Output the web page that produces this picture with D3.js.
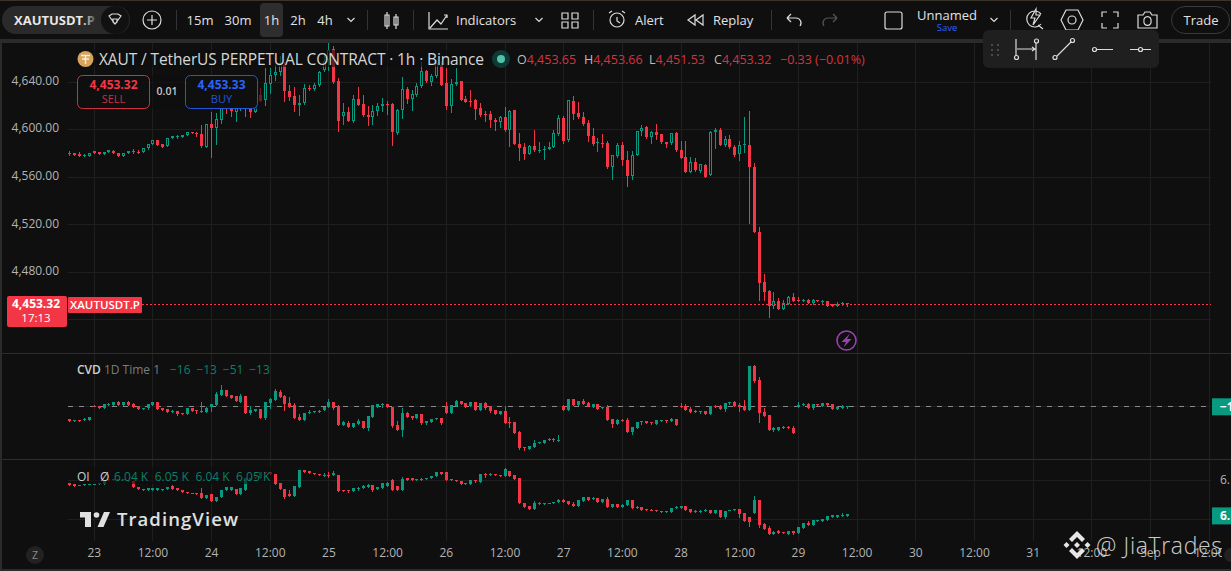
<!DOCTYPE html>
<meta charset="utf-8">
<script src="https://d3js.org/d3.v7.min.js"></script>
<style>
  html, body { margin: 0; padding: 0; background: #0f0f0f; overflow: hidden; }
  svg { display: block; font-family: "Open Sans", "Noto Sans", sans-serif; }
  .axis path { display: none; }
  .axis text { fill: #b4b4b4; font-size: 12px; font-family: "Open Sans", sans-serif; }
  .tb { fill: #e2e2e2; font-size: 13px; font-weight: 500; }
  .ic { fill: none; stroke: #dcdcdc; stroke-width: 1.2; }
</style>
<div id="chart"></div>
<script>
// open, high, low, close for every hourly bar
const priceBars = [
[4579.9,4581.2,4578.4,4580.1],[4579.8,4579.8,4578.1,4578.1],[4578.9,4580.4,4577.3,4577.3],[4577.3,4579.2,4577,4578],[4577,4579.8,4577,4579.8],
[4581.2,4581.4,4579.5,4579.5],[4580.6,4580.8,4578.9,4578.9],[4578.9,4580.9,4578.7,4580.9],[4580.9,4582.3,4580.5,4582],[4581.2,4582,4579.8,4579.8],
[4579.8,4579.8,4577,4577],[4577,4579.5,4577,4579.5],[4579.5,4581.8,4579.5,4581.8],[4581.2,4583.2,4579.8,4580.9],[4580.9,4582,4579.8,4580.6],
[4580.6,4583.7,4580.6,4583.7],[4583.7,4587.7,4583,4587.7],[4587.4,4590.7,4587.4,4590.7],[4591,4591,4586.8,4586.8],[4587.7,4587.7,4585.1,4585.1],
[4585.4,4592.1,4585.4,4592.1],[4592.1,4594.4,4592.1,4593.8],[4593.6,4594.7,4592.8,4593.9],[4593.3,4595.2,4593.3,4595.2],[4594.9,4597.2,4594.9,4597.2],
[4597.8,4597.9,4596.4,4596.4],[4596.6,4597.5,4593.8,4595.5],[4596.1,4603.6,4585.1,4585.4],[4585.1,4604.2,4585,4604.2],[4604.5,4614,4576.8,4600.6],
[4600.6,4613.5,4587.1,4608.4],[4608,4632,4605,4620],[4622,4628,4613.5,4619],[4622,4626,4610.8,4615],[4614,4624,4607,4621],
[4620,4625,4616,4623],[4625,4630,4611.2,4618],[4618,4626,4609.8,4614],[4614,4622,4614,4622],[4629,4634.5,4623.3,4623.3],
[4624.1,4651.4,4620.5,4638.7],[4638.2,4651.4,4630.3,4645.8],[4645.5,4654.2,4641.5,4647.7],[4647.7,4661.2,4645.5,4655.6],[4654.2,4656,4623.9,4631.7],
[4632.3,4637.3,4624.7,4626.9],[4628.1,4635.4,4614.9,4619.9],[4620.2,4628.9,4612.1,4621.9],[4621.9,4638.2,4621,4634.5],[4634.5,4637.3,4632.6,4633.9],
[4633.7,4638.7,4632.6,4637.3],[4637.3,4648.6,4636.6,4647.7],[4649.4,4664,4649,4657],[4657.8,4673,4650,4666.2],[4667.6,4670,4639,4639.3],
[4640.7,4642.7,4598,4606.5],[4610.7,4621.9,4604.5,4614],[4614.3,4618.6,4606.5,4606.8],[4607,4628.9,4606,4625.3],[4625.3,4635.6,4619.9,4620.5],
[4621.3,4628.9,4611,4611.5],[4611.8,4619.6,4603.6,4609.8],[4609.8,4620.5,4604.5,4615.2],[4615.4,4621.9,4612.1,4619.4],[4619.1,4626.1,4614.9,4621],
[4621,4623.9,4613,4620.5],[4621.3,4622,4586.2,4597.2],[4596.8,4617,4596,4616.3],[4616.3,4643.5,4609.3,4633.7],[4634,4635,4621.9,4625.3],
[4625.3,4633.1,4616.3,4629.5],[4628.9,4638.5,4628,4636.5],[4635.9,4656.1,4635.4,4648.6],[4648.6,4650,4640,4640.1],[4639.6,4646,4637.3,4644.9],
[4644.4,4658,4644,4655.6],[4654.2,4656,4637,4637.3],[4638.7,4651.4,4616.8,4619.1],[4619.6,4642.1,4614,4638.2],[4637.6,4651.4,4637,4639.9],
[4640.1,4640.5,4624.5,4624.7],[4625.3,4628.1,4622.8,4623],[4623.6,4633.1,4619.6,4623],[4624.1,4625.3,4608.4,4617.1],[4617.7,4621.9,4611.2,4612.1],
[4612.9,4614.9,4606.5,4612.4],[4612.9,4614.9,4601.4,4607.3],[4607.9,4609.3,4598.9,4605.6],[4605.6,4611.2,4601.7,4610.1],[4610.1,4618.5,4598.6,4599.4],
[4599.4,4615.7,4585.4,4615.2],[4615.7,4616.3,4587.1,4587.4],[4587.4,4596.6,4573.6,4583.7],[4584.6,4588.2,4575,4579.2],[4579.2,4586.8,4579,4585.7],
[4585.7,4599.4,4581.8,4582],[4582,4589.1,4580.4,4582.6],[4582.3,4585.4,4575,4583.4],[4583.2,4589.1,4583,4584.8],[4584.8,4599.4,4584.6,4596.6],
[4596.1,4612.1,4594.9,4609.3],[4609.3,4611.2,4587.9,4590.2],[4591,4624.7,4589.6,4624.1],[4623.9,4627.5,4608.7,4612.9],[4613.5,4622.7,4609.5,4609.8],
[4610.1,4614,4603.6,4604.5],[4605,4607.9,4589.6,4593.8],[4594.4,4600.8,4586.8,4587.6],[4588.8,4592.4,4581.5,4589.3],[4588.5,4595.8,4584.8,4588],
[4588.5,4589.6,4567.4,4567.7],[4567.7,4578.4,4558.2,4578.1],[4577.5,4588.2,4576.4,4586.8],[4586.8,4589.1,4569.4,4573.6],[4574.2,4581.8,4551.7,4560.7],
[4560.7,4581.8,4558.2,4578.1],[4578.1,4598.5,4578,4598.3],[4598.3,4603.6,4595.2,4600.8],[4601.4,4602.2,4592.8,4593],[4593,4598,4588.2,4597.5],
[4597.8,4604.5,4591.9,4595.2],[4595.8,4596,4588.6,4588.8],[4589.1,4589.3,4585.1,4587.6],[4587.9,4597,4587.7,4596.6],[4596.6,4597.5,4581.8,4582],
[4582.6,4590.2,4575.3,4575.6],[4576.4,4590.2,4564,4564.3],[4564.3,4576.7,4564,4572.2],[4572.2,4575.3,4565,4565.2],[4564.9,4570.8,4564.3,4570.2],
[4570,4570.8,4560,4560.1],[4561.3,4598,4561,4597.5],[4597.2,4600.8,4584,4599.2],[4599.4,4600.8,4586.5,4586.8],[4586.8,4593.8,4585.4,4591.9],
[4591.9,4594.7,4584.4,4584.6],[4585.1,4586.8,4577.5,4578.4],[4578.7,4589.9,4573.6,4586.5],[4586.5,4610.1,4580.4,4587.4],[4586.8,4615.4,4521.4,4567.7],
[4568.3,4571.3,4513.6,4513.8],[4513.5,4517.7,4456.2,4470.8],[4471.7,4478.2,4456.2,4463.3],[4463.9,4464.5,4442.2,4451.5],[4451.5,4463,4449.2,4455.4],
[4455.4,4457.9,4448.4,4448.7],[4449,4456.2,4448.7,4453.4],[4453.1,4459.6,4453,4458.8],[4458.8,4462,4455.2,4455.4],[4456.2,4458.8,4455.4,4455.6],
[4455.6,4457.1,4455.4,4456.2],[4456.5,4456.8,4453.4,4453.7],[4453.7,4457.4,4452.8,4456.2],[4456.2,4456.3,4455.5,4455.6],[4454.8,4456.2,4452.8,4455.4],
[4455.4,4455.6,4451.3,4451.5],[4452.6,4452.8,4451.3,4451.5],[4451.5,4454.5,4451.3,4452.8],[4452.8,4454.8,4452.2,4454],[4453.65,4453.66,4451.53,4453.32]
];
const cvdBars = [
[-51,-51,-56,-56],[-56,-54,-56,-54],[-55,-55,-56,-56],[-55,-48,-55,-51],[-54,-45,-54,-45],
[-12,-9,-13,-13],[-12,-12,-18,-18],[-17,-7,-17,-7],[-9,-3,-9,-6],[-9,1,-9,1],
[0,3,-9,-9],[-9,0,-9,0],[1,3,-9,-9],[-7,-2,-14,-14],[-13,-13,-21,-21],
[-20,-17,-20,-17],[-17,-7,-21,-7],[-9,0,-9,0],[0,0,-20,-20],[-17,-17,-24,-24],
[-21,-21,-31,-31],[-30,-25,-30,-27],[-28,-28,-40,-37],[-33,-33,-35,-35],[-36,-17,-36,-17],
[-18,-18,-26,-26],[-25,-25,-33,-27],[-29,0,-29,-27],[-29,-14,-29,-17],[-16,-6,-27,-6],
[-9,29,-9,24],[21,50,21,37],[37,37,18,18],[20,20,12,12],[17,17,4,4],
[0,23,0,19],[18,18,-33,-33],[-33,-13,-36,-24],[-26,-21,-26,-21],[-21,-21,-48,-48],
[-49,0,-51,0],[-3,13,-19,10],[6,39,6,32],[29,36,16,16],[18,21,-24,-7],
[-3,16,-14,-14],[-8,-4,-48,-48],[-46,-37,-54,-54],[-54,-33,-54,-33],[-32,-24,-32,-29],
[-29,-26,-29,-26],[-29,-25,-29,-27],[-24,-15,-24,-15],[-16,8,-16,-1],[0,0,-21,-18],
[-12,-9,-69,-69],[-69,-57,-69,-60],[-62,-57,-75,-75],[-75,-63,-75,-63],[-66,-51,-66,-56],
[-57,-57,-78,-78],[-79,-42,-83,-42],[-45,-10,-45,-10],[-14,-6,-14,-6],[-9,-4,-14,-7],
[-7,-7,-14,-14],[-14,-14,-75,-72],[-69,-56,-84,-84],[-85,-19,-102,-33],[-32,-30,-44,-44],
[-43,-43,-50,-48],[-48,-36,-48,-36],[-36,-36,-66,-64],[-64,-57,-66,-57],[-60,-52,-60,-52],
[-52,-47,-52,-49],[-49,-49,-66,-64],[-12,0,-33,-33],[-33,-9,-33,-9],[-13,6,-13,3],
[3,3,-6,-6],[-3,-3,-14,-14],[-12,0,-12,0],[0,0,-24,-24],[-24,-3,-24,-3],
[-3,0,-21,-19],[-13,-13,-30,-27],[-24,-24,-36,-36],[-36,-27,-36,-27],[-27,-12,-63,-63],
[-61,-45,-75,-62],[-61,-61,-93,-93],[-91,-88,-141,-138],[-136,-136,-144,-139],[-141,-133,-141,-133],
[-135,-114,-135,-123],[-122,-120,-122,-120],[-123,-114,-123,-114],[-114,-108,-114,-111],[-111,-108,-117,-114],
[-117,-99,-117,-114],[-12,-9,-24,-24],[-24,9,-24,9],[9,9,-9,-9],[-9,3,-9,3],
[3,9,-6,-6],[-3,0,-13,-13],[-15,-6,-15,-6],[-6,-6,-21,-21],[-18,-15,-18,-15],
[-15,-9,-54,-54],[-51,-51,-75,-66],[-66,-51,-66,-54],[-54,-51,-57,-57],[-54,-48,-90,-90],
[-90,-75,-96,-75],[-78,-60,-78,-60],[-60,-57,-66,-57],[-57,-57,-63,-63],[-60,-60,-66,-63],
[-66,-54,-66,-54],[-57,-54,-57,-54],[-54,-54,-60,-57],[-57,-48,-57,-51],[-51,-51,-69,-69],
[-12,-3,-14,-14],[-12,-6,-24,-24],[-21,-15,-30,-30],[-27,-24,-30,-30],[-30,-27,-33,-27],
[-27,-27,-36,-36],[-36,-13,-36,-13],[-12,-9,-15,-15],[-12,-9,-21,-21],[-21,-3,-27,-3],
[-3,0,-6,0],[0,3,-12,-12],[-9,-3,-27,-15],[-12,6,-24,-24],[-24,108,-24,108],
[108,111,60,63],[66,75,-60,-33],[-30,-18,-42,-42],[-39,-39,-84,-84],[-84,-75,-87,-78],
[-84,-75,-84,-75],[-75,-72,-78,-78],[-74,-71,-77,-77],[-78,-72,-93,-93],[-14,0,-14,-9],
[-9,-3,-9,-6],[-6,-3,-18,-18],[-18,-6,-21,-6],[-6,-6,-9,-9],[-12,-3,-12,-3],
[-3,-3,-9,-9],[-7,-7,-21,-21],[-21,-12,-21,-14],[-18,-9,-18,-12],[-16,-13,-18,-13]
];
const oiBars = [
[6465,6467,6440,6440],[6448,6448,6431,6431],[6436,6440,6436,6440],[6444,6448,6444,6448],[6448,6452,6448,6452],
[6453,6457,6453,6457],[6457,6461,6457,6461],[6457,6504,6457,6504],[6517,6517,6504,6504],[6517,6517,6508,6508],
[6517,6517,6512,6512],[6515,6515,6508,6508],[6500,6500,6491,6491],[6491,6491,6414,6414],[6414,6414,6384,6384],
[6389,6389,6376,6376],[6376,6397,6376,6397],[6380,6405,6380,6397],[6380,6397,6380,6397],[6376,6389,6376,6389],
[6384,6419,6384,6419],[6431,6444,6393,6393],[6397,6397,6371,6371],[6376,6376,6354,6354],[6354,6354,6341,6341],
[6341,6341,6333,6333],[6337,6337,6329,6329],[6333,6397,6278,6278],[6278,6312,6278,6312],[6329,6329,6239,6239],
[6239,6286,6239,6286],[6282,6376,6282,6376],[6371,6410,6371,6410],[6376,6410,6376,6410],[6384,6384,6329,6329],
[6329,6397,6329,6397],[6371,6525,6371,6525],[6504,6534,6504,6534],[6525,6545,6525,6545],[6534,6603,6534,6603],
[6611,6611,6593,6593],[6602,6602,6576,6576],[6576,6576,6448,6448],[6461,6461,6384,6384],[6384,6384,6278,6290],
[6320,6376,6303,6303],[6303,6427,6303,6427],[6419,6628,6419,6628],[6636,6636,6602,6602],[6619,6619,6593,6593],
[6593,6593,6576,6576],[6576,6576,6564,6564],[6568,6589,6551,6572],[6568,6602,6538,6559],[6568,6619,6568,6589],
[6568,6568,6367,6367],[6376,6376,6367,6367],[6380,6380,6346,6363],[6359,6401,6359,6401],[6389,6414,6376,6401],
[6406,6435,6406,6423],[6419,6452,6419,6440],[6435,6435,6367,6380],[6393,6414,6393,6414],[6397,6470,6397,6470],
[6423,6483,6423,6465],[6500,6517,6376,6376],[6423,6423,6376,6376],[6380,6542,6380,6512],[6525,6525,6508,6508],
[6525,6525,6500,6500],[6508,6517,6508,6517],[6504,6525,6504,6512],[6512,6529,6512,6529],[6525,6559,6525,6559],
[6555,6602,6555,6602],[6602,6602,6585,6585],[6606,6606,6504,6504],[6512,6512,6500,6500],[6508,6508,6487,6487],
[6495,6495,6453,6453],[6461,6461,6453,6453],[6453,6500,6453,6500],[6504,6504,6474,6487],[6478,6581,6478,6581],
[6581,6593,6546,6568],[6572,6593,6572,6581],[6576,6576,6568,6568],[6568,6568,6559,6559],[6559,6657,6559,6640],
[6619,6619,6555,6555],[6564,6564,6521,6521],[6525,6525,6213,6213],[6205,6205,6162,6162],[6171,6171,6137,6137],
[6137,6235,6137,6209],[6201,6222,6201,6209],[6201,6205,6201,6205],[6209,6213,6209,6213],[6218,6226,6213,6226],
[6226,6260,6226,6248],[6248,6260,6226,6226],[6231,6231,6201,6201],[6201,6222,6175,6175],[6175,6248,6175,6248],
[6239,6286,6239,6286],[6286,6286,6252,6252],[6265,6290,6265,6278],[6273,6273,6226,6226],[6222,6265,6222,6265],
[6265,6286,6162,6162],[6162,6196,6162,6196],[6196,6196,6162,6162],[6162,6201,6162,6188],[6184,6248,6184,6248],
[6248,6248,6145,6145],[6158,6171,6145,6145],[6158,6158,6124,6124],[6132,6132,6124,6124],[6124,6132,6115,6115],
[6120,6120,6111,6111],[6102,6102,6098,6098],[6098,6102,6098,6102],[6094,6141,6094,6141],[6149,6171,6149,6162],
[6149,6167,6149,6167],[6171,6171,6124,6124],[6128,6128,6098,6098],[6111,6120,6094,6094],[6094,6115,6094,6102],
[6107,6128,6107,6115],[6120,6120,6081,6081],[6081,6120,6081,6120],[6120,6120,6030,6034],[6030,6107,6013,6107],
[6115,6120,6115,6120],[6120,6132,6120,6132],[6137,6137,6034,6073],[6077,6077,5983,5983],[6030,6030,5915,5962],
[6081,6299,6081,6248],[6248,6248,5902,5927],[5945,5949,5880,5880],[5889,5915,5812,5812],[5816,5851,5816,5838],
[5851,5859,5829,5829],[5838,5838,5829,5829],[5812,5851,5812,5851],[5851,5851,5816,5829],[5825,5902,5825,5902],
[5889,5953,5889,5953],[5953,5983,5932,5932],[5927,5991,5927,5991],[5979,5991,5979,5991],[5983,6004,5983,6004],
[5991,6043,5991,6043],[6030,6051,6030,6051],[6030,6051,6030,6051],[6043,6085,6043,6056],[6043,6068,6043,6068]
];
const priceTicks = [4640, 4600, 4560, 4520, 4480];
const priceGrid = [4640, 4600, 4560, 4520, 4480, 4440];
const timeLabels = ["23","12:00","24","12:00","25","12:00","26","12:00","27","12:00","28","12:00","29","12:00","30","12:00","31","12:00","Sep","12:00"];
const lastPrice = 4453.32;
const lastCvd = -13;
const lastOi = 6050;

const W = 1231, H = 571;
const up = "#089981", down = "#f23645", bg = "#0f0f0f", grid = "#1f1f1f", band = "#2b2b2b";

const svg = d3.select("#chart").append("svg").attr("width", W).attr("height", H);
svg.append("rect").attr("width", W).attr("height", H).attr("fill", bg);

// bar index to x, same step for all three panes
const x = d3.scaleLinear().domain([0, 233]).range([69.3, 1208.7]);
const priceY = d3.scaleLinear().domain([4440, 4640]).range([319.3, 81.5]);
const cvdY = d3.scaleLinear().domain([-13, 47]).range([406.3, 386.3]);
const oiY = d3.scaleLinear().domain([6000, 6500]).range([519.3, 480.3]);
const timeIdx = timeLabels.map((d, k) => 5 + 12 * k);

// grid
const gridG = svg.append("g").attr("shape-rendering", "crispEdges").attr("stroke", grid);
timeIdx.forEach(i => gridG.append("line").attr("x1", Math.round(x(i)) + .5).attr("x2", Math.round(x(i)) + .5).attr("y1", 42).attr("y2", 541));
const hLines = priceGrid.map(priceY).concat([cvdY(lastCvd), oiY(6500), oiY(6000)]);
hLines.forEach(y => gridG.append("line").attr("x1", 68).attr("x2", 1211).attr("y1", Math.round(y) + .5).attr("y2", Math.round(y) + .5));

// last value lines
svg.append("line").attr("x1", 68).attr("x2", 1211).attr("y1", Math.round(cvdY(lastCvd)) + .5).attr("y2", Math.round(cvdY(lastCvd)) + .5)
  .attr("stroke", "#8a8a8a").attr("stroke-dasharray", "5,6").attr("shape-rendering", "crispEdges");

const defs = svg.append("defs");
function clip(id, y0, y1) {
  defs.append("clipPath").attr("id", id).append("rect").attr("x", 66).attr("y", y0).attr("width", 1146).attr("height", y1 - y0);
}
clip("cp", 43, 353); clip("cc", 354, 459); clip("co", 460, 541);

function drawCandles(id, rows, y, hollow) {
  const g = svg.append("g").attr("clip-path", `url(#${id})`).attr("shape-rendering", "crispEdges");
  const col = d => d[3] >= d[0] ? up : down;
  g.selectAll("line").data(rows).join("line")
    .attr("x1", (d, i) => Math.round(x(i)) + .5).attr("x2", (d, i) => Math.round(x(i)) + .5)
    .attr("y1", d => Math.round(y(d[1]))).attr("y2", d => Math.round(y(d[2])) + 1)
    .attr("stroke", col);
  g.selectAll("rect").data(rows).join("rect")
    .each(function(d, i) {
      const top = Math.round(y(Math.max(d[0], d[3])));
      const h = Math.max(1, Math.round(y(Math.min(d[0], d[3]))) - top);
      const open = hollow && d[3] >= d[0] && h > 2;
      d3.select(this)
        .attr("x", Math.round(x(i)) - 1 + (open ? .5 : 0))
        .attr("width", open ? 2 : 3)
        .attr("y", top + (open ? .5 : 0))
        .attr("height", open ? h - 1 : h)
        .attr("fill", open ? bg : col(d))
        .attr("stroke", open ? col(d) : "none");
    });
}
drawCandles("cp", priceBars, priceY, true);
drawCandles("cc", cvdBars, cvdY, false);
drawCandles("co", oiBars, oiY, false);

// current price dotted line
const lastY = Math.round(priceY(lastPrice)) + 1.5;
svg.append("line").attr("x1", 142).attr("x2", 1211).attr("y1", lastY).attr("y2", lastY)
  .attr("stroke", "#ff3347").attr("stroke-dasharray", "2,2").attr("shape-rendering", "crispEdges");

// dimmed backing of the legends
svg.append("rect").attr("x", 77).attr("y", 50).attr("width", 413).attr("height", 17).attr("fill", bg).attr("opacity", .62);
svg.append("rect").attr("x", 77).attr("y", 467).attr("width", 197).attr("height", 17).attr("fill", bg).attr("opacity", .62);
svg.append("rect").attr("x", 77).attr("y", 75).attr("width", 186).attr("height", 34).attr("fill", bg).attr("opacity", .62);

// axes
svg.append("g").attr("class", "axis").attr("transform", "translate(60,-1)")
  .call(d3.axisLeft(priceY).tickValues(priceTicks).tickSize(0).tickPadding(1).tickFormat(d3.format(",.2f")));
defs.append("clipPath").attr("id", "ct").append("rect").attr("x", 0).attr("y", 541).attr("width", 1222).attr("height", 28);
svg.append("g").attr("clip-path", "url(#ct)").append("g").attr("class", "axis").attr("transform", "translate(0,541)")
  .call(d3.axisBottom(x).tickValues(timeIdx).tickSize(0).tickPadding(7).tickFormat((d, i) => timeLabels[i]));

// frame bands and pane dividers
const bands = [[0,39,W,4],[0,43,2,528],[0,569,W,2]];
bands.forEach(b => svg.append("rect").attr("x", b[0]).attr("y", b[1]).attr("width", b[2]).attr("height", b[3]).attr("fill", band));
svg.append("rect").attr("width", W).attr("height", 1).attr("fill", "#3a3428");
[353, 459].forEach(y => svg.append("rect").attr("x", 2).attr("y", y).attr("width", W).attr("height", 1).attr("fill", "#2e2e2e"));

// toolbar
const tb = svg.append("g");
function label(t, px, py, o) {
  o = o || {};
  return tb.append("text").attr("class", o.cls === undefined ? "tb" : o.cls).attr("x", px).attr("y", py).attr("text-anchor", o.a || "middle")
    .style("font-weight", o.w).style("font-size", o.s ? o.s + "px" : null).style("fill", o.c).text(t);
}
function icon(d, tx, ty, extra) {
  return tb.append("path").attr("class", "ic").attr("d", d).attr("transform", `translate(${tx},${ty})`).attr("style", extra || null);
}
const fade = defs.append("linearGradient").attr("id", "fade");
fade.append("stop").attr("offset", "0").attr("stop-color", "#e8e8e8");
fade.append("stop").attr("offset", ".84").attr("stop-color", "#e8e8e8");
fade.append("stop").attr("offset", "1").attr("stop-color", "#555");
tb.append("rect").attr("x", 2).attr("y", 6).attr("width", 128).attr("height", 28).attr("rx", 14).attr("fill", "#2a2a2a");
label("XAUTUSDT.P", 14, 25, {a: "start", s: 13, w: 700}).style("fill", "url(#fade)").attr("textLength", 81);
tb.append("circle").attr("cx", 115).attr("cy", 20).attr("r", 14).attr("fill", "#111");
icon("M-6,-4 L-3,-6 L3,-6 L6,-4 L0,4 Z M-2,-1 L2,-1 L2,2 L0,4 L-2,2 Z", 115, 20);
icon("M-9,0 A9,9 0 1,1 9,0 A9,9 0 1,1 -9,0 M-5,0 L5,0 M0,-5 L0,5", 152, 20);
const seps = [176, 367, 413, 593, 771, 1010];
seps.forEach(sx => tb.append("rect").attr("x", sx).attr("y", 10).attr("width", 1).attr("height", 20).attr("fill", "#333"));
tb.append("rect").attr("x", 260).attr("y", 3).attr("width", 23).attr("height", 34).attr("rx", 4).attr("fill", "#2e2e2e");
[["15m",200],["30m",238],["1h",271.5],["2h",298],["4h",325]].forEach(d => label(d[0], d[1], 25));
const chev = "M-3.5,-2 L0,1.5 L3.5,-2";
[351, 539, 994].forEach(cx => icon(chev, cx, 20));
icon("M387,12 V29 M385,15 H389 V26 H385 Z M396,14 V29 M394,17 H398 V25 H394 Z", 0, 0);
icon("M430,28 L437,20 L441,24 L447,15 M444,15 H447 V18 M429,12 V29 H448", 0, 0);
label("Indicators", 456, 25, {a: "start"});
icon("M562,13 H568 V19 H562 Z M572,13 H578 V19 H572 Z M562,22 H568 V28 H562 Z M572,22 H578 V28 H572 Z", 0, 0);
icon("M-7,0 A7,7 0 1,1 7,0 A7,7 0 1,1 -7,0 M0,-3 V1 L3,3 M-8,-7 L-5,-9 M8,-7 L5,-9", 617, 20);
label("Alert", 635, 25, {a: "start"});
icon("M695,15 V25 L688,20 Z M703,15 V25 L696,20 Z", 0, 0);
label("Replay", 713, 25, {a: "start"});
icon("M787,18 H796 A5,5 0 0 1 800,26 M787,18 L791,14 M787,18 L791,22", 0, 0);
icon("M837,18 H828 A5,5 0 0 0 824,26 M837,18 L833,14 M837,18 L833,22", 0, 0, "stroke:#555");
tb.append("rect").attr("class", "ic").attr("x", 885).attr("y", 12).attr("width", 17).attr("height", 17).attr("rx", 2);
label("Unnamed", 947, 20, {s: 13, w: 500});
label("Save", 947, 31, {s: 9.5, w: 500, c: "#2962ff", cls: ""});
icon("M1041,14 A8,8 0 1 0 1041,24 M1038,25 L1043,29 M1036,9 L1031,18 H1035 L1033,25 L1040,15 H1036 Z", 0, 0);
icon("M1066,10 H1078 L1083,20 L1078,30 H1066 L1061,20 Z M1068,20 A4,4 0 1,1 1076,20 A4,4 0 1,1 1068,20", 0, 0);
icon("M1102,17 V12 H1107 M1113,12 H1118 V17 M1118,23 V28 H1113 M1107,28 H1102 V23", 0, 0);
icon("M1138,15 H1143 L1145,12 H1150 L1152,15 H1157 V28 H1138 Z M1144,21 A3.6,3.6 0 1,1 1151,21 A3.6,3.6 0 1,1 1144,21", 0, 0);
tb.append("rect").attr("x", 1171.5).attr("y", 6.5).attr("width", 58).attr("height", 27).attr("rx", 13.5).attr("fill", "none").attr("stroke", "#3a3a3a");
label("Trade", 1201, 25, {s: 13, w: 500});

// floating drawing bar
tb.append("rect").attr("x", 983).attr("y", 30).attr("width", 176).attr("height", 38).attr("rx", 6).attr("fill", "#1f1f1f");
[0, 1, 2].forEach(r => [0, 1].forEach(c => tb.append("rect").attr("x", 991 + c * 6).attr("y", 44 + r * 5).attr("width", 2).attr("height", 2).attr("fill", "#4a4a4a")));
icon("M1016,39 V56 M1036,43 V60 M1017,49 H1035 M1032,47 L1035,49 L1032,51", 0, 0);
[[1016.5,57.5],[1036.5,41],[1055,57.5],[1072.5,40.5],[1094.5,49.5],[1140.5,49.5]].forEach(c =>
  tb.append("circle").attr("class", "ic").attr("cx", c[0]).attr("cy", c[1]).attr("r", 2));
icon("M1057,56 L1071,42 M1097,49.5 H1113 M1130,49.5 H1138 M1143,49.5 H1151", 0, 0);

// chart legends
const lg = svg.append("g");
lg.append("circle").attr("cx", 85.5).attr("cy", 59).attr("r", 8).attr("fill", "#d8a35c");
lg.append("path").attr("d", "M81,55.5 H90 M85.5,55.5 V64 M82,59 H89").attr("stroke", "#fbeed8").attr("stroke-width", 1.4).attr("fill", "none");
lg.append("text").attr("x", 99).attr("y", 65).attr("fill", "#d6d6d6").style("font-size", "15.5px").attr("textLength", 385).text("XAUT / TetherUS PERPETUAL CONTRACT · 1h · Binance");
lg.append("circle").attr("cx", 501).attr("cy", 59).attr("r", 9).attr("fill", "#0e3a33");
lg.append("circle").attr("cx", 501).attr("cy", 59).attr("r", 4).attr("fill", "#4ec3a9");
const ohlc = [["O","4,453.65",517],["H","4,453.66",584],["L","4,451.53",649],["C","4,453.32",714]];
ohlc.forEach(d => {
  const t = lg.append("text").attr("x", d[2]).attr("y", 64).style("font-size", "12.5px");
  t.append("tspan").attr("fill", "#bdbdbd").text(d[0]);
  t.append("tspan").attr("fill", "#d8323f").text(d[1]);
});
lg.append("text").attr("x", 780).attr("y", 64).attr("fill", "#d8323f").style("font-size", "12.5px").text("−0.33 (−0.01%)");

function orderBox(bx, col, price, side) {
  lg.append("rect").attr("x", bx + .5).attr("y", 75.5).attr("width", 72).attr("height", 33).attr("rx", 5).attr("fill", bg).attr("stroke", col).attr("stroke-opacity", .85);
  lg.append("text").attr("x", bx + 36.5).attr("y", 89).attr("text-anchor", "middle").attr("fill", col).style("font-size", "12px").style("font-weight", 700).text(price);
  lg.append("text").attr("x", bx + 36.5).attr("y", 103).attr("text-anchor", "middle").attr("fill", col).attr("fill-opacity", .85).style("font-size", "11px").text(side);
}
orderBox(77, down, "4,453.32", "SELL");
orderBox(185, "#2962ff", "4,453.33", "BUY");
lg.append("text").attr("x", 167).attr("y", 95).attr("text-anchor", "middle").attr("fill", "#c8c8c8").style("font-size", "10.5px").style("font-weight", 600).text("0.01");

// last price tags
lg.append("rect").attr("x", 7).attr("y", 296).attr("width", 60).attr("height", 31).attr("rx", 2).attr("fill", down);
lg.append("text").attr("x", 36).attr("y", 308).attr("text-anchor", "middle").attr("fill", "#fff").style("font-size", "12px").style("font-weight", 700).text("4,453.32");
lg.append("text").attr("x", 36).attr("y", 322).attr("text-anchor", "middle").attr("fill", "#fff").style("font-size", "11.5px").text("17:13");
lg.append("rect").attr("x", 68).attr("y", 297).attr("width", 74).attr("height", 16).attr("rx", 1).attr("fill", down);
lg.append("text").attr("x", 105).attr("y", 309).attr("text-anchor", "middle").attr("fill", "#fff").style("font-size", "11.5px").style("font-weight", 600).text("XAUTUSDT.P");

// lightning mark
lg.append("circle").attr("cx", 846.5).attr("cy", 340.5).attr("r", 9.5).attr("fill", "none").attr("stroke", "#9a42b5").attr("stroke-width", 1.6);
lg.append("path").attr("d", "M850,333.5 L841.5,342 H846 L843.5,347.5 L851.5,339 H847 Z").attr("fill", "#9a42b5");

// pane legends
const cvdT = lg.append("text").attr("x", 77).attr("y", 374).style("font-size", "12px");
cvdT.append("tspan").attr("fill", "#cfcfcf").style("font-weight", 600).text("CVD");
cvdT.append("tspan").attr("dx", 3).attr("fill", "#7c7c7c").text("1D Time 1");
["−16","−13","−51","−13"].forEach((t, i) => lg.append("text").attr("x", 170 + i * 26.4).attr("y", 374).attr("fill", "#08806c").style("font-size", "12px").text(t));
lg.append("text").attr("x", 77).attr("y", 481).attr("fill", "#cfcfcf").style("font-size", "12px").text("OI");
lg.append("text").attr("x", 100).attr("y", 481).attr("fill", "#cfcfcf").style("font-size", "12px").text("Ø");
["6.04 K","6.05 K","6.04 K","6.05 K"].forEach((t, i) => lg.append("text").attr("x", 114 + i * 40.7).attr("y", 481).attr("fill", "#08806c").style("font-size", "12px").text(t));

// right hand tags, cut by the window edge
[[1212, cvdY(lastCvd) - 8, "−1"], [1212, oiY(lastOi) - 8, "6."]].forEach(d => {
  lg.append("rect").attr("x", d[0]).attr("y", d[1]).attr("width", 19).attr("height", 17).attr("fill", up);
  lg.append("text").attr("x", d[0] + 8).attr("y", d[1] + 13).attr("fill", "#fff").style("font-size", "12px").style("font-weight", 700).text(d[2]);
});
lg.append("text").attr("x", 1220).attr("y", oiY(6500) + 4).attr("fill", "#b4b4b4").style("font-size", "12px").text("6.");

// Z button
lg.append("circle").attr("cx", 35).attr("cy", 555).attr("r", 9).attr("fill", "#222");
lg.append("text").attr("x", 35).attr("y", 559).attr("text-anchor", "middle").attr("fill", "#8a8a8a").style("font-size", "10.5px").text("Z");
lg.append("circle").attr("cx", 1231).attr("cy", 555).attr("r", 7).attr("fill", "#222");

// TradingView mark
lg.append("path").attr("fill", "#e0e0e0").attr("d", "M80,512 H91 V527 H85 V517.5 H80 Z M104,512 H110 L103.5,527 H97.5 Z");
lg.append("circle").attr("cx", 96.5).attr("cy", 515).attr("r", 2.8).attr("fill", "#e0e0e0");
lg.append("text").attr("x", 117).attr("y", 526).attr("fill", "#e0e0e0").style("font-size", "18.5px").style("font-weight", 600).attr("textLength", 121).text("TradingView");

// @JiaTrades stamp
const stamp = lg.append("g").attr("fill", "#e6e6e6").attr("transform", "translate(1077,545)");
stamp.append("path").attr("d", "M0,-14 L8,-6 L5,-3 L0,-8 L-5,-3 L-8,-6 Z M0,14 L8,6 L5,3 L0,8 L-5,3 L-8,6 Z");
[[-10.5,0,3],[10.5,0,3],[0,0,3]].forEach(d =>
  stamp.append("path").attr("d", `M${d[0]},${d[1]-d[2]} L${d[0]+d[2]},${d[1]} L${d[0]},${d[1]+d[2]} L${d[0]-d[2]},${d[1]} Z`));
lg.append("text").attr("x", 1096).attr("y", 554).attr("fill", "#e4e4e4").attr("fill-opacity", .9).style("font-size", "23px").style("font-weight", 300).attr("textLength", 126).text("@ JiaTrades");
</script>
